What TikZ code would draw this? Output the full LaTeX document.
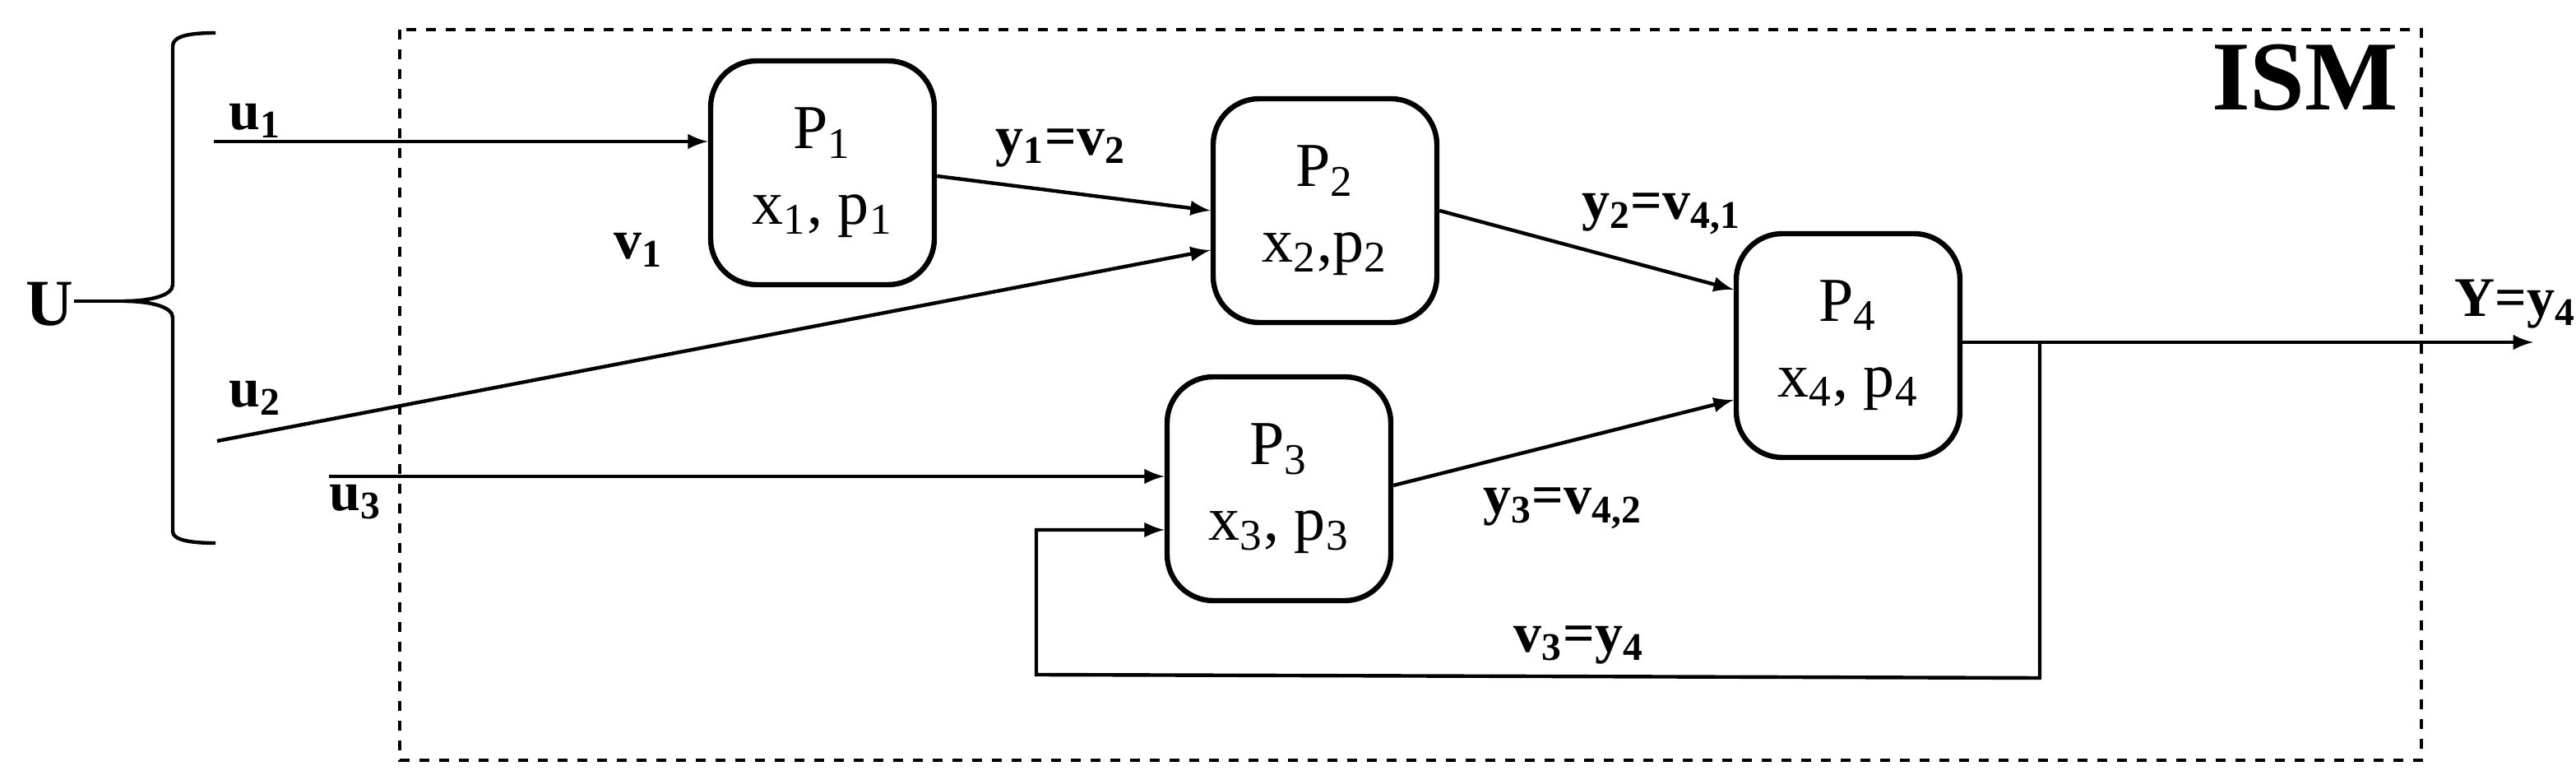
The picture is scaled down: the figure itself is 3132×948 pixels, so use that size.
\documentclass[tikz,border=0pt]{standalone}
\usepackage{fontspec}
\setmainfont{Liberation Serif}
\newcommand{\sbx}[1]{\textsubscript{#1}}
\begin{document}
\begin{tikzpicture}[x=0.25pt,y=-0.25pt,
 box/.style={draw,line width=1.6pt,rounded corners=14pt,minimum width=68pt,minimum height=68pt,align=center,font=\fontsize{19}{23}\selectfont},
 lab/.style={font=\fontsize{17}{20}\selectfont\bfseries,inner sep=0},
 arr/.style={line width=1.1pt,-latex}]
\useasboundingbox (0,0) rectangle (3132,948);
\draw[dashed,line width=1.1pt] (486,36) rectangle (2944,924);
\node[font=\fontsize{30}{34}\selectfont\bfseries,anchor=north east] (ism) at (2930,40) {ISM};
\node[box] (p1) at (1000,210) {P\sbx{1}\\x\sbx{1}, p\sbx{1}};
\node[box] (p2) at (1611,256) {P\sbx{2}\\x\sbx{2},p\sbx{2}};
\node[box] (p3) at (1555,594) {P\sbx{3}\\x\sbx{3}, p\sbx{3}};
\node[box] (p4) at (2247,420) {P\sbx{4}\\x\sbx{4}, p\sbx{4}};
% brace
\draw[line width=1.1pt] (262,40) .. controls (230,40) and (210,44) .. (210,56) -- (210,346) .. controls (210,360) and (180,366) .. (150,366) .. controls (180,366) and (210,372) .. (210,386) -- (210,646) .. controls (210,656) and (230,660) .. (262,660);
\node[lab,font=\fontsize{20}{24}\selectfont\bfseries,anchor=east] (U) at (90,370) {U};
\draw[line width=1.1pt] (U.east |- 0,366) -- (150,366);
% inputs
\coordinate (a1) at (260,172);
\draw[arr] (a1) -- (p1.west |- a1);
\node[lab] at (310,147) {u\sbx{1}};
\node[lab] at (776,304) {v\sbx{1}};
\coordinate (a2) at (264,536);
\draw[arr] (a2) -- (p2.west |- 0,304);
\node[lab] at (310,484) {u\sbx{2}};
\coordinate (a3) at (400,579);
\draw[arr] (a3) -- (p3.west |- a3);
\node[lab] at (432,610) {u\sbx{3}};
% internal
\draw[arr] (p1.east |- 0,214) -- (p2.west |- 0,256);
\node[lab] at (1290,180) {y\sbx{1}=v\sbx{2}};
\draw[arr] (p2.east |- 0,256) -- (p4.west |- 0,352);
\node[lab] at (2020,260) {y\sbx{2}=v\sbx{4,1}};
\draw[arr] (p3.east |- 0,590) -- (p4.west |- 0,486);
\node[lab] at (1900,618) {y\sbx{3}=v\sbx{4,2}};
% output
\coordinate (out) at (3080,416);
\draw[arr] (p4.east |- out) -- (out);
\node[lab] at (3058,370) {Y=y\sbx{4}};
\coordinate (fb1) at (2480,416);
\coordinate (fb2) at (2480,824);
\coordinate (fb3) at (1260,820);
\coordinate (fb4) at (1260,644);
\draw[arr] (fb1) -- (fb2) -- (fb3) -- (fb4) -- (p3.west |- fb4);
\node[lab] at (1920,784) {v\sbx{3}=y\sbx{4}};
\end{tikzpicture}
\end{document}
